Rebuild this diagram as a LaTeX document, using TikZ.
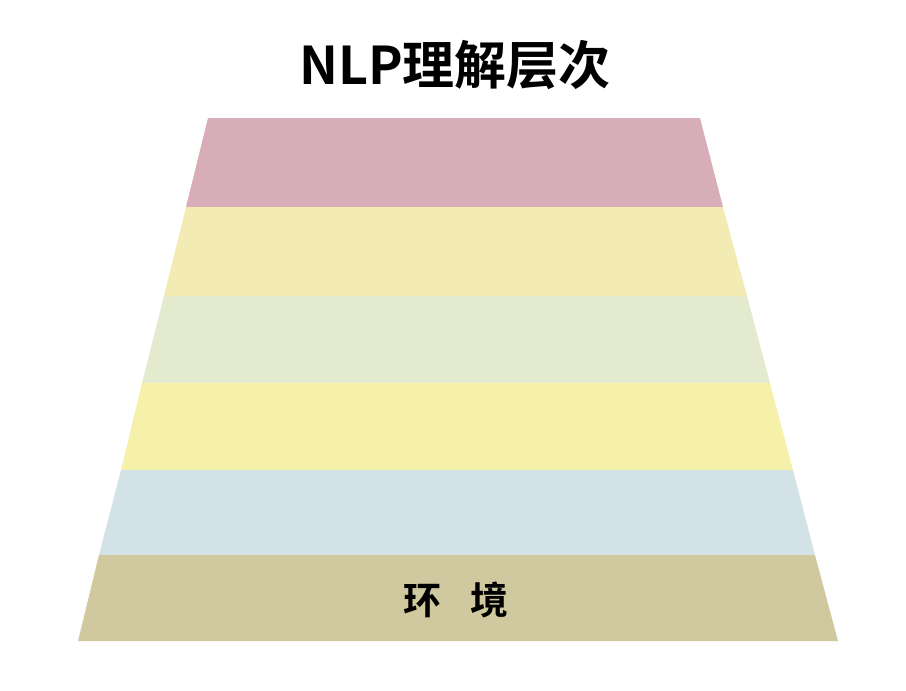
\documentclass[tikz,border=0pt]{standalone}
\usepackage{fontspec}
\usepackage{tikz}
\usepackage{xcolor}
\newfontfamily\cjk{Noto Sans CJK SC}[BoldFont={* Bold}]
\definecolor{bandRose}{HTML}{D7ADB7}
\definecolor{bandCream}{HTML}{F3EBB4}
\definecolor{bandSage}{HTML}{E3EACD}
\definecolor{bandLemon}{HTML}{F6F1AA}
\definecolor{bandSky}{HTML}{D3E2E6}
\definecolor{bandKhaki}{HTML}{D0C99F}
\tikzset{band/.style={draw=none}}
\tikzset{caption/.style={font=\cjk\bfseries\fontsize{52}{56}\selectfont, text=black}}
\tikzset{label/.style={font=\cjk\bfseries\fontsize{38}{42}\selectfont, text=black}}

\begin{document}
\begin{tikzpicture}[x=1pt, y=-1pt]
  \useasboundingbox (0,0) rectangle (906,691);

  % six layers, top to bottom
  \fill[band, bandRose]  (208,118) -- (700,118) -- (723,207) -- (186,207) -- cycle;
  \fill[band, bandCream] (186,207) -- (723,207) -- (747,296) -- (164,296) -- cycle;
  \fill[band, bandSage]  (164,296) -- (747,296) -- (770,383) -- (142,383) -- cycle;
  \fill[band, bandLemon] (142,383) -- (770,383) -- (793,470) -- (121,470) -- cycle;
  \fill[band, bandSky]   (121,470) -- (793,470) -- (815,555) -- (99,555) -- cycle;
  \fill[band, bandKhaki] (99,555) -- (815,555) -- (838,641) -- (78,641) -- cycle;

  \node[caption] (title) at (455,65) {NLP理解层次};
  \node[label] (env) at (456,600) {环\hspace{0.75em}境};
\end{tikzpicture}
\end{document}
